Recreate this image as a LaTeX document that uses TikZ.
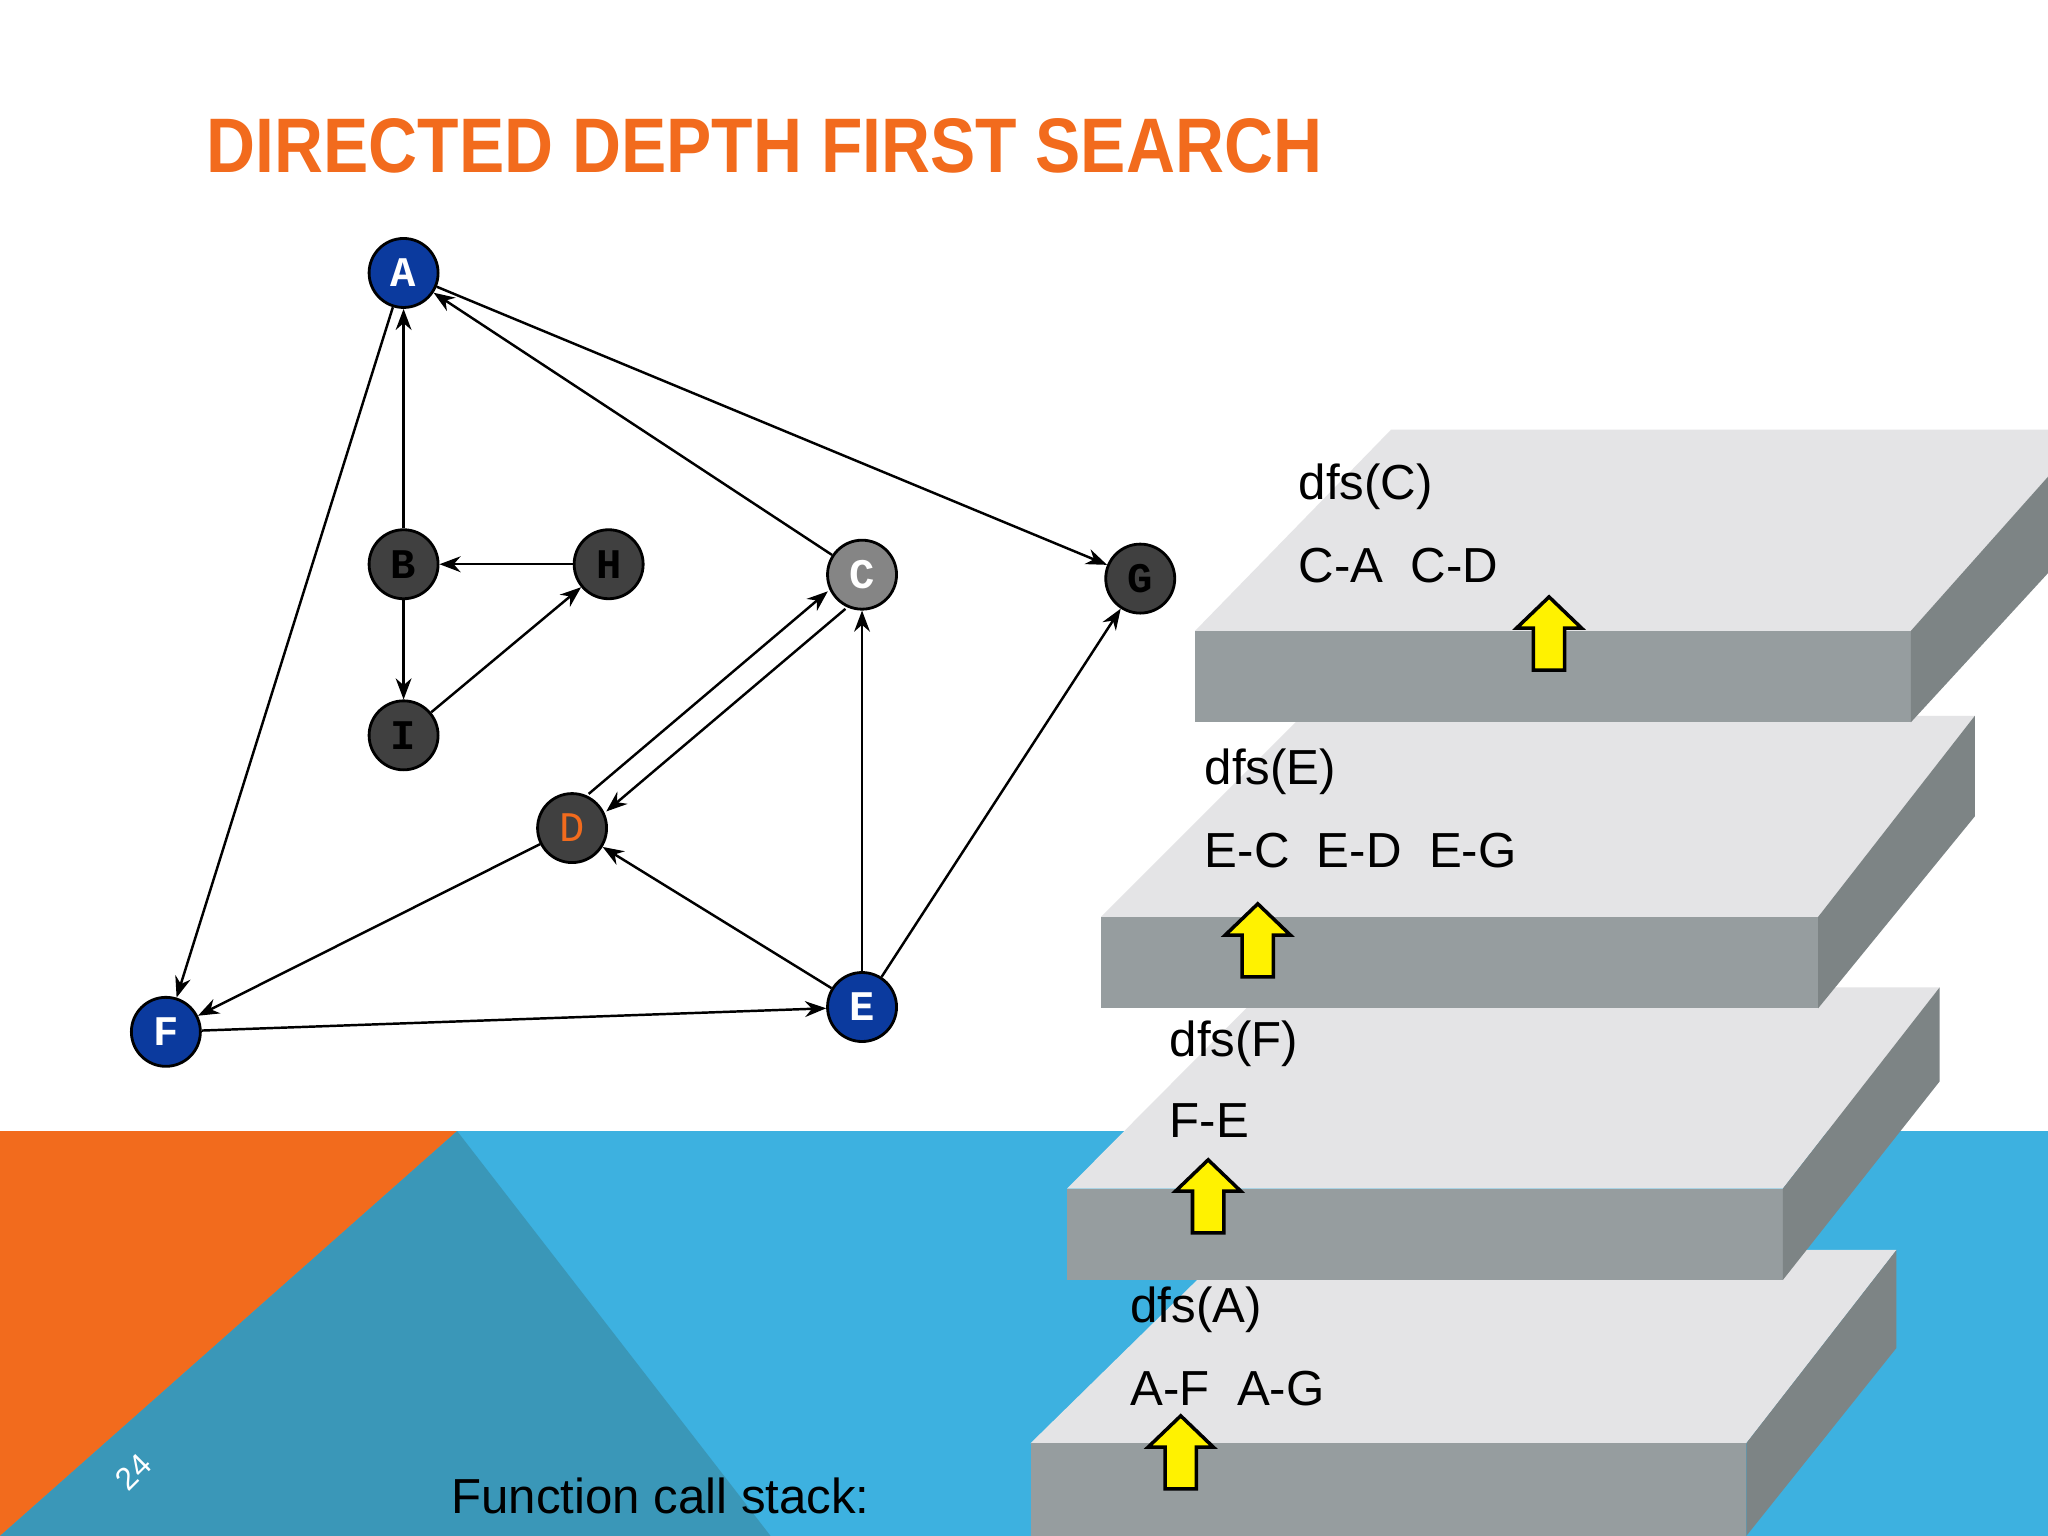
\documentclass[tikz,border=0pt]{standalone}
\usepackage{fontspec}
\setmainfont{Liberation Sans}
\newfontfamily\mono{Liberation Mono}
\usetikzlibrary{arrows.meta}
\definecolor{ttl}{HTML}{F26B1D}
\definecolor{bband}{HTML}{3DB1E0}
\definecolor{teal}{HTML}{3A97B8}
\definecolor{nblue}{HTML}{0B3A9E}
\definecolor{ndark}{HTML}{404040}
\definecolor{ngray}{HTML}{858585}
\definecolor{stop}{HTML}{E4E4E6}
\definecolor{sfront}{HTML}{969D9F}
\definecolor{sside}{HTML}{7D8485}
\begin{document}
\begin{tikzpicture}[x=0.013061cm,y=-0.013061cm,
  v/.style={circle,draw=black,line width=0.8pt,minimum size=0.69cm,inner sep=0pt,font=\mono\bfseries\fontsize{12}{12}\selectfont},
  vb/.style={v,fill=nblue,text=white},
  vd/.style={v,fill=ndark,text=black},
  e/.style={-{Stealth[length=6pt,width=4.5pt]},line width=0.7pt},
  st/.style={font=\fontsize{14}{16}\selectfont,anchor=west},
  ya/.style={fill=yellow,draw=black,line width=1pt}]
\useasboundingbox (0,0) rectangle (1568,1176);
\fill[white] (0,0) rectangle (1568,1176);
\fill[bband] (0,866) rectangle (1568,1176);
\fill[ttl] (0,866) -- (350,866) -- (0,1176) -- cycle;
\fill[teal] (350,866) -- (590,1176) -- (0,1176) -- cycle;
\node[anchor=west,text=ttl,font=\bfseries\fontsize{22}{22}\selectfont,xscale=0.877,inner sep=0pt] (t) at (158,112) {DIRECTED DEPTH FIRST SEARCH};
% slabs
\newcommand{\slab}[8]{%
 \fill[stop] (#1,#3) -- (#5,#6) -- (#7,#6) -- (#2,#3) -- cycle;
 \fill[sfront] (#1,#3) rectangle (#2,#4);
 \fill[sside] (#2,#3) -- (#7,#6) -- (#7,#6+#8) -- (#2,#4) -- cycle;}
\slab{789}{1337}{1105}{1176}{940}{957}{1452}{75}
\slab{817}{1365}{910}{980}{970}{756}{1485}{72}
\slab{843}{1392}{702}{772}{997}{548}{1512}{77}
\slab{915}{1463}{483}{553}{1065}{329}{1600}{75}
\newcommand{\yarrow}[2]{\draw[ya] (#1,#2-28) -- (#1+25,#2-4) -- (#1+12,#2-4) -- (#1+12,#2+28) -- (#1-12,#2+28) -- (#1-12,#2-4) -- (#1-25,#2-4) -- cycle;}
\yarrow{1186}{485}
\yarrow{963}{720}
\yarrow{925}{916}
\yarrow{904}{1112}
\node[st] (s1) at (985,373) {dfs(C)};
\node[st] (s2) at (985,433) {C-A\ \ C-D};
\node[st] (s3) at (913,591) {dfs(E)};
\node[st] (s4) at (913,651) {E-C\ \ E-D\ \ E-G};
\node[st] (s5) at (886,799) {dfs(F)};
\node[st] (s6) at (886,858) {F-E};
\node[st] (s7) at (856,1003) {dfs(A)};
\node[st] (s8) at (856,1063) {A-F\ \ A-G};
\node[st] (fc) at (336,1145) {Function call stack:};
\node[text=white,rotate=45,font=\fontsize{9}{9}\selectfont,inner sep=0pt] (pg) at (102,1127) {24};
% graph
\node[vb] (A) at (309,209) {A};
\node[vd] (B) at (309,432) {B};
\node[vd] (H) at (466,432) {H};
\node[vd] (I) at (309,563) {I};
\node[v,fill=ngray,text=white] (C) at (660,440) {C};
\node[vd] (G) at (873,443) {G};
\node[v,fill=ndark,text=ttl,font=\mono\fontsize{12}{12}\selectfont] (D) at (438,634) {D};
\node[vb] (E) at (660,771) {E};
\node[vb] (F) at (127,790) {F};
\draw[e] (A) -- (G);
\draw[e] (A) -- (F);
\draw[e] (B) -- (A);
\draw[e] (H) -- (B);
\draw[e] (B) -- (I);
\draw[e] (I) -- (H);
\draw[e] (C) -- (A);
\draw[e] ([xshift=2.5pt,yshift=-2.5pt]C.south west) -- ([xshift=2.5pt,yshift=-2.5pt]D.north east);
\draw[e] ([xshift=-2.5pt,yshift=2.5pt]D.north east) -- ([xshift=-2.5pt,yshift=2.5pt]C.south west);
\draw[e] (E) -- (C);
\draw[e] (E) -- (D);
\draw[e] (E) -- (G);
\draw[e] (D) -- (F);
\draw[e] (F) -- (E);
\end{tikzpicture}
\end{document}
